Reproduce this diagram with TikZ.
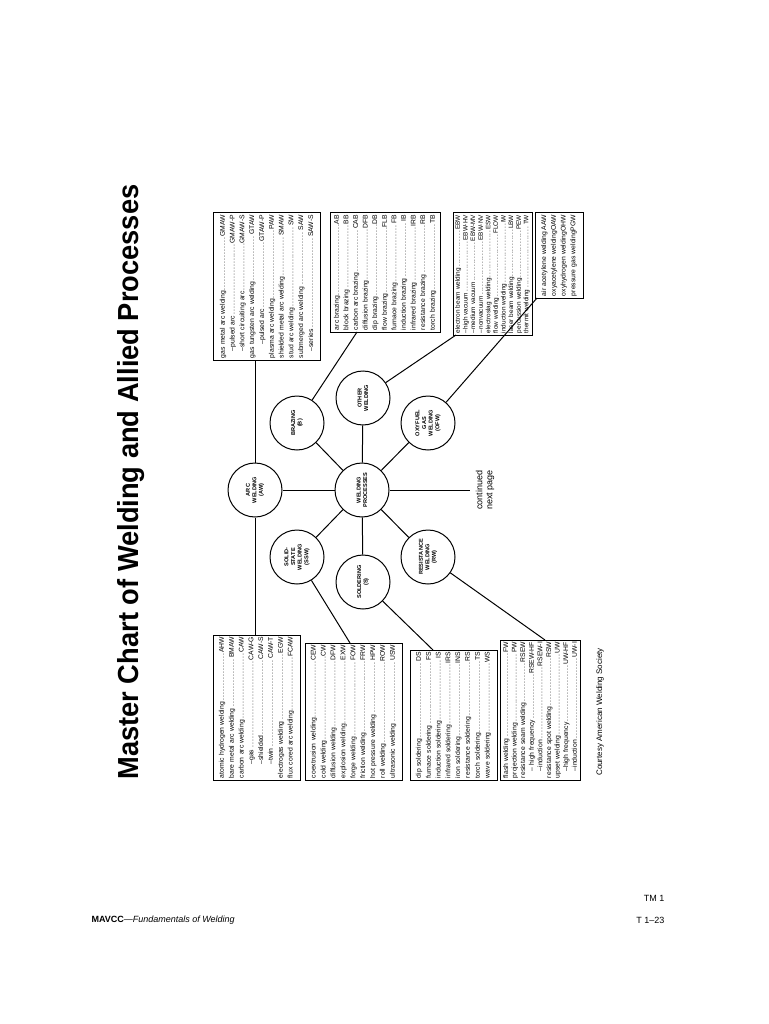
\documentclass[tikz,border=0pt]{standalone}
\usepackage{fontspec}
\setmainfont{Liberation Sans}
\usepackage{graphicx}
\newcommand\ent[2]{\leavevmode\hbox to \linewidth{#1\dotfill#2}\par}
\tikzset{
  proc/.style={draw, line width=1pt, circle, minimum size=54pt, inner sep=0pt, rotate=90, align=center, font=\fontsize{5.6}{6.6}\selectfont\bfseries},
  lbox/.style={draw, line width=1pt, rotate=90, inner sep=2pt, font=\fontsize{6.8}{#1}\selectfont, anchor=center},
  lbox/.default=8.5,
  link/.style={line width=1pt}
}
\begin{document}
\begin{tikzpicture}[x=1pt,y=-1pt]
\useasboundingbox (0,0) rectangle (768,1024);
% title
\node[rotate=90] (title) at (131,482) {\scalebox{0.94}[1]{\fontsize{29}{30}\selectfont\bfseries Master Chart of Welding and Allied Processes}};
% circles
\node[proc] (wp) at (362,490) {WELDING\\PROCESSES};
\node[proc] (aw) at (255,490) {ARC\\WELDING\\(AW)};
\node[proc] (br) at (297,423) {BRAZING\\(B)};
\node[proc] (ow) at (363,398) {OTHER\\WELDING};
\node[proc] (of) at (428,423) {OXYFUEL\\GAS\\WELDING\\(OFW)};
\node[proc] (ss) at (297,557) {SOLID-\\STATE\\WELDING\\(SSW)};
\node[proc] (so) at (363,582) {SOLDERING\\(S)};
\node[proc] (rw) at (428,557) {RESISTANCE\\WELDING\\(RW)};
\coordinate (cont) at (470,490);
\node[rotate=90, align=center, font=\fontsize{9}{10}\selectfont] (conttxt) at (485,490) {continued\\next page};
\foreach \c in {aw,br,ow,of,ss,so,rw} \draw[link] (wp) -- (\c);
\draw[link] (wp) -- (cont);
% boxes
\node[lbox=9.8, minimum width=147pt, minimum height=107pt, text width=143pt] (gmaw) at (266.5,286.5) {%
\ent{gas metal arc welding}{GMAW}\ent{\quad--pulsed arc}{GMAW-P}\ent{\quad--short circuiting arc}{GMAW-S}%
\ent{gas tungsten arc welding}{GTAW}\ent{\qquad--pulsed arc}{GTAW-P}\ent{plasma arc welding}{PAW}%
\ent{shielded metal arc welding}{SMAW}\ent{stud arc welding}{SW}\ent{submerged arc welding}{SAW}\ent{\quad--series}{SAW-S}};
\node[lbox=9.6, minimum width=119pt, minimum height=110pt, text width=115pt] (braz) at (385,272.5) {%
\ent{arc brazing}{AB}\ent{block brazing}{BB}\ent{carbon arc brazing}{CAB}\ent{diffusion brazing}{DFB}%
\ent{dip brazing}{DB}\ent{flow brazing}{FLB}\ent{furnace brazing}{FB}\ent{induction brazing}{IB}%
\ent{infrared brazing}{IRB}\ent{resistance brazing}{RB}\ent{torch brazing}{TB}};
\node[lbox=7.6, font=\fontsize{6.4}{7.6}\selectfont, minimum width=122pt, minimum height=79pt, text width=118pt] (ebw) at (492.5,274) {%
\ent{electron beam welding}{EBW}\ent{--high vacuum}{EBW-HV}\ent{--medium vacuum}{EBW-MV}\ent{--nonvacuum}{EBW-NV}%
\ent{electroslag welding}{ESW}\ent{flow welding}{FLOW}\ent{induction welding}{IW}\ent{laser beam welding}{LBW}%
\ent{percussion welding}{PEW}\ent{thermit welding}{TW}};
\node[lbox=9.8, minimum width=85pt, minimum height=48pt, text width=81pt] (aaw) at (559,255.5) {%
\ent{air acetylene welding}{AAW}\ent{oxyacetylene welding}{OAW}\ent{oxyhydrogen welding}{OHW}\ent{pressure gas welding}{PGW}};
\node[lbox=9.8, minimum width=145pt, minimum height=87pt, text width=141pt] (ahw) at (256.5,707.5) {%
\ent{atomic hydrogen welding}{AHW}\ent{bare metal arc welding}{BMAW}\ent{carbon arc welding}{CAW}\ent{\qquad--gas}{CAW-G}%
\ent{\qquad--shielded}{CAW-S}\ent{\qquad--twin}{CAW-T}\ent{electrogas welding}{EGW}\ent{flux cored arc welding}{FCAW}};
\node[lbox=9.9, minimum width=137pt, minimum height=97pt, text width=133pt] (cew) at (353.5,711.5) {%
\ent{coextrusion welding}{CEW}\ent{cold welding}{CW}\ent{diffusion welding}{DFW}\ent{explosion welding}{EXW}%
\ent{forge welding}{FOW}\ent{friction welding}{FRW}\ent{hot pressure welding}{HPW}\ent{roll welding}{ROW}\ent{ultrasonic welding}{USW}};
\node[lbox=9.8, minimum width=130pt, minimum height=87pt, text width=126pt] (ds) at (453.5,715) {%
\ent{dip soldering}{DS}\ent{furnace soldering}{FS}\ent{induction soldering}{IS}\ent{infrared soldering}{IRS}%
\ent{iron soldering}{INS}\ent{resistance soldering}{RS}\ent{torch soldering}{TS}\ent{wave soldering}{WS}};
\node[lbox=8.6, minimum width=140pt, minimum height=80pt, text width=136pt] (fw) at (540,710) {%
\ent{flash welding}{FW}\ent{projection welding}{PW}\ent{resistance seam welding}{RSEW}\ent{\quad-- high frequency}{RSEW-HF}%
\ent{\quad--induction}{RSEW-I}\ent{resistance spot welding}{RSW}\ent{upset welding}{UW}\ent{\quad--high frequency}{UW-HF}\ent{\quad--induction}{UW-I}};
% connectors to boxes
\draw[link] (aw.east) -- (aw.east |- gmaw.west);
\draw[link] (aw.west) -- (aw.west |- ahw.east);
\coordinate (brc) at (357,332);
\draw[link] (br) -- (brc);
\coordinate (ebc) at (456,335);
\draw[link] (ow) -- (ebc);
\coordinate (aac) at (537,298);
\draw[link] (of) -- (aac);
\coordinate (cec) at (350,643);
\draw[link] (ss) -- (cec);
\coordinate (dsc) at (433,650);
\draw[link] (so) -- (dsc);
\coordinate (fwc) at (545,640);
\draw[link] (rw) -- (fwc);
% credits and footer
\node[rotate=90, font=\fontsize{8}{9}\selectfont] (court) at (600,712) {Courtesy American Welding Society};
\node[anchor=east, font=\fontsize{9}{10}\selectfont] (tm) at (668,898) {TM 1};
\node[anchor=west, font=\fontsize{9}{10}\selectfont] (mav) at (88,920) {\textbf{MAVCC}---\textit{Fundamentals of Welding}};
\node[anchor=east, font=\fontsize{9}{10}\selectfont] (pg) at (668,920) {T 1--23};
\end{tikzpicture}
\end{document}
